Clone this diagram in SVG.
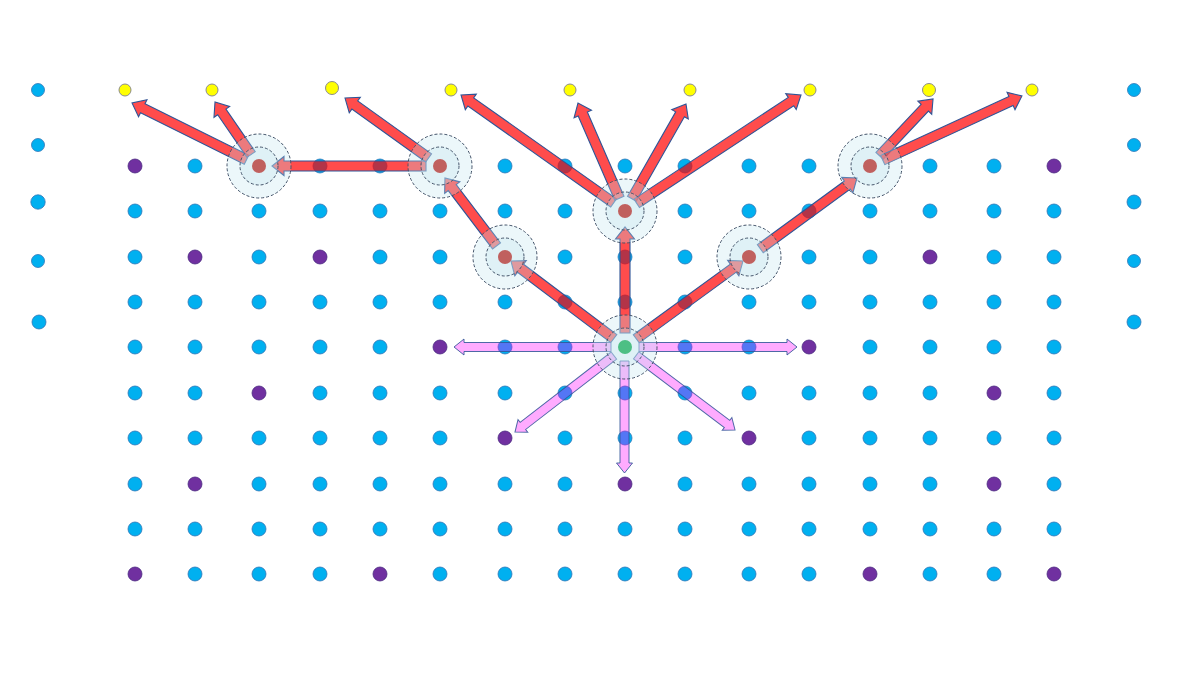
<svg xmlns="http://www.w3.org/2000/svg" width="1200" height="675" viewBox="0 0 1200 675">
<style>
.b{fill:#00b0f0;stroke:#2e75b6;stroke-width:0.8}
.p{fill:#7030a0;stroke:#4a2a80;stroke-width:0.8}
.y{fill:#ffff00;stroke:#8c8c8c;stroke-width:1}
.ra{fill:#ff0000;fill-opacity:0.7;stroke:#2f5597;stroke-width:1.1;stroke-linejoin:miter}
.pa{fill:#ff00ff;fill-opacity:0.33;stroke:#2f5597;stroke-width:1;stroke-opacity:0.85}
.halo{fill:#bfe6f0;fill-opacity:0.3;stroke:#44546a;stroke-width:1;stroke-dasharray:3 2}
.nc{fill:#c0605e}
.gc{fill:#4dbf84}
</style>
<rect width="1200" height="675" fill="#ffffff"/>
<g id="side-dots">
<circle class="b" cx="38" cy="90" r="6.5"/><circle class="b" cx="38" cy="145" r="6.5"/><circle class="b" cx="38" cy="202" r="7.2"/><circle class="b" cx="38" cy="261" r="6.5"/><circle class="b" cx="39" cy="322" r="7"/>
<circle class="b" cx="1134" cy="90" r="6.5"/><circle class="b" cx="1134" cy="145" r="6.5"/><circle class="b" cx="1134" cy="202" r="7"/><circle class="b" cx="1134" cy="261" r="6.5"/><circle class="b" cx="1134" cy="322" r="7"/>
</g>
<g id="yellow-dots">
<circle class="y" cx="125" cy="90" r="6"/><circle class="y" cx="212" cy="90" r="6"/><circle class="y" cx="332" cy="88" r="6.5"/><circle class="y" cx="451" cy="90" r="6"/><circle class="y" cx="570" cy="90" r="6"/><circle class="y" cx="690" cy="90" r="6"/><circle class="y" cx="810" cy="90" r="6"/><circle class="y" cx="929" cy="90" r="6.5"/><circle class="y" cx="1032" cy="90" r="6"/>
</g>
<g id="grid">
<circle class="p" cx="135" cy="166" r="7"/><circle class="b" cx="195" cy="166" r="7"/><circle class="b" cx="320" cy="166" r="7"/><circle class="b" cx="380" cy="166" r="7"/><circle class="b" cx="505" cy="166" r="7"/><circle class="b" cx="565" cy="166" r="7"/><circle class="b" cx="625" cy="166" r="7"/><circle class="b" cx="685" cy="166" r="7"/><circle class="b" cx="749" cy="166" r="7"/><circle class="b" cx="809" cy="166" r="7"/><circle class="b" cx="930" cy="166" r="7"/><circle class="b" cx="994" cy="166" r="7"/><circle class="p" cx="1054" cy="166" r="7"/>
<circle class="b" cx="135" cy="211" r="7"/><circle class="b" cx="195" cy="211" r="7"/><circle class="b" cx="259" cy="211" r="7"/><circle class="b" cx="320" cy="211" r="7"/><circle class="b" cx="380" cy="211" r="7"/><circle class="b" cx="440" cy="211" r="7"/><circle class="b" cx="505" cy="211" r="7"/><circle class="b" cx="565" cy="211" r="7"/><circle class="b" cx="685" cy="211" r="7"/><circle class="b" cx="749" cy="211" r="7"/><circle class="b" cx="809" cy="211" r="7"/><circle class="b" cx="870" cy="211" r="7"/><circle class="b" cx="930" cy="211" r="7"/><circle class="b" cx="994" cy="211" r="7"/><circle class="b" cx="1054" cy="211" r="7"/>
<circle class="b" cx="135" cy="257" r="7"/><circle class="p" cx="195" cy="257" r="7"/><circle class="b" cx="259" cy="257" r="7"/><circle class="p" cx="320" cy="257" r="7"/><circle class="b" cx="380" cy="257" r="7"/><circle class="b" cx="440" cy="257" r="7"/><circle class="b" cx="565" cy="257" r="7"/><circle class="b" cx="625" cy="257" r="7"/><circle class="b" cx="685" cy="257" r="7"/><circle class="b" cx="809" cy="257" r="7"/><circle class="b" cx="870" cy="257" r="7"/><circle class="p" cx="930" cy="257" r="7"/><circle class="b" cx="994" cy="257" r="7"/><circle class="b" cx="1054" cy="257" r="7"/>
<circle class="b" cx="135" cy="302" r="7"/><circle class="b" cx="195" cy="302" r="7"/><circle class="b" cx="259" cy="302" r="7"/><circle class="b" cx="320" cy="302" r="7"/><circle class="b" cx="380" cy="302" r="7"/><circle class="b" cx="440" cy="302" r="7"/><circle class="b" cx="505" cy="302" r="7"/><circle class="b" cx="565" cy="302" r="7"/><circle class="b" cx="625" cy="302" r="7"/><circle class="b" cx="685" cy="302" r="7"/><circle class="b" cx="749" cy="302" r="7"/><circle class="b" cx="809" cy="302" r="7"/><circle class="b" cx="870" cy="302" r="7"/><circle class="b" cx="930" cy="302" r="7"/><circle class="b" cx="994" cy="302" r="7"/><circle class="b" cx="1054" cy="302" r="7"/>
<circle class="b" cx="135" cy="347" r="7"/><circle class="b" cx="195" cy="347" r="7"/><circle class="b" cx="259" cy="347" r="7"/><circle class="b" cx="320" cy="347" r="7"/><circle class="b" cx="380" cy="347" r="7"/><circle class="p" cx="440" cy="347" r="7"/><circle class="b" cx="505" cy="347" r="7"/><circle class="b" cx="565" cy="347" r="7"/><circle class="b" cx="685" cy="347" r="7"/><circle class="b" cx="749" cy="347" r="7"/><circle class="p" cx="809" cy="347" r="7"/><circle class="b" cx="870" cy="347" r="7"/><circle class="b" cx="930" cy="347" r="7"/><circle class="b" cx="994" cy="347" r="7"/><circle class="b" cx="1054" cy="347" r="7"/>
<circle class="b" cx="135" cy="393" r="7"/><circle class="b" cx="195" cy="393" r="7"/><circle class="p" cx="259" cy="393" r="7"/><circle class="b" cx="320" cy="393" r="7"/><circle class="b" cx="380" cy="393" r="7"/><circle class="b" cx="440" cy="393" r="7"/><circle class="b" cx="505" cy="393" r="7"/><circle class="b" cx="565" cy="393" r="7"/><circle class="b" cx="625" cy="393" r="7"/><circle class="b" cx="685" cy="393" r="7"/><circle class="b" cx="749" cy="393" r="7"/><circle class="b" cx="809" cy="393" r="7"/><circle class="b" cx="870" cy="393" r="7"/><circle class="b" cx="930" cy="393" r="7"/><circle class="p" cx="994" cy="393" r="7"/><circle class="b" cx="1054" cy="393" r="7"/>
<circle class="b" cx="135" cy="438" r="7"/><circle class="b" cx="195" cy="438" r="7"/><circle class="b" cx="259" cy="438" r="7"/><circle class="b" cx="320" cy="438" r="7"/><circle class="b" cx="380" cy="438" r="7"/><circle class="b" cx="440" cy="438" r="7"/><circle class="p" cx="505" cy="438" r="7"/><circle class="b" cx="565" cy="438" r="7"/><circle class="b" cx="625" cy="438" r="7"/><circle class="b" cx="685" cy="438" r="7"/><circle class="p" cx="749" cy="438" r="7"/><circle class="b" cx="809" cy="438" r="7"/><circle class="b" cx="870" cy="438" r="7"/><circle class="b" cx="930" cy="438" r="7"/><circle class="b" cx="994" cy="438" r="7"/><circle class="b" cx="1054" cy="438" r="7"/>
<circle class="b" cx="135" cy="484" r="7"/><circle class="p" cx="195" cy="484" r="7"/><circle class="b" cx="259" cy="484" r="7"/><circle class="b" cx="320" cy="484" r="7"/><circle class="b" cx="380" cy="484" r="7"/><circle class="b" cx="440" cy="484" r="7"/><circle class="b" cx="505" cy="484" r="7"/><circle class="b" cx="565" cy="484" r="7"/><circle class="p" cx="625" cy="484" r="7"/><circle class="b" cx="685" cy="484" r="7"/><circle class="b" cx="749" cy="484" r="7"/><circle class="b" cx="809" cy="484" r="7"/><circle class="b" cx="870" cy="484" r="7"/><circle class="b" cx="930" cy="484" r="7"/><circle class="p" cx="994" cy="484" r="7"/><circle class="b" cx="1054" cy="484" r="7"/>
<circle class="b" cx="135" cy="529" r="7"/><circle class="b" cx="195" cy="529" r="7"/><circle class="b" cx="259" cy="529" r="7"/><circle class="b" cx="320" cy="529" r="7"/><circle class="b" cx="380" cy="529" r="7"/><circle class="b" cx="440" cy="529" r="7"/><circle class="b" cx="505" cy="529" r="7"/><circle class="b" cx="565" cy="529" r="7"/><circle class="b" cx="625" cy="529" r="7"/><circle class="b" cx="685" cy="529" r="7"/><circle class="b" cx="749" cy="529" r="7"/><circle class="b" cx="809" cy="529" r="7"/><circle class="b" cx="870" cy="529" r="7"/><circle class="b" cx="930" cy="529" r="7"/><circle class="b" cx="994" cy="529" r="7"/><circle class="b" cx="1054" cy="529" r="7"/>
<circle class="p" cx="135" cy="574" r="7"/><circle class="b" cx="195" cy="574" r="7"/><circle class="b" cx="259" cy="574" r="7"/><circle class="b" cx="320" cy="574" r="7"/><circle class="p" cx="380" cy="574" r="7"/><circle class="b" cx="440" cy="574" r="7"/><circle class="b" cx="505" cy="574" r="7"/><circle class="b" cx="565" cy="574" r="7"/><circle class="b" cx="625" cy="574" r="7"/><circle class="b" cx="685" cy="574" r="7"/><circle class="b" cx="749" cy="574" r="7"/><circle class="b" cx="809" cy="574" r="7"/><circle class="p" cx="870" cy="574" r="7"/><circle class="b" cx="930" cy="574" r="7"/><circle class="b" cx="994" cy="574" r="7"/><circle class="p" cx="1054" cy="574" r="7"/>
</g>
<g id="connectors">
<path class="ra" transform="translate(613.8,338.6) rotate(-142.97)" d="M0,-5 H116.8 V-9.5 L128.8,0 L116.8,9.5 V5 H0 Z"/>
<path class="ra" transform="translate(625,333) rotate(-90)" d="M0,-5 H94 V-9.5 L106,0 L94,9.5 V5 H0 Z"/>
<path class="ra" transform="translate(636.3,338.8) rotate(-36.09)" d="M0,-5 H120 V-9.5 L132,0 L120,9.5 V5 H0 Z"/>
<path class="ra" transform="translate(496.5,245.9) rotate(-127.22)" d="M0,-5 H73.2 V-9.5 L85.2,0 L73.2,9.5 V5 H0 Z"/>
<path class="ra" transform="translate(426,166) rotate(180)" d="M0,-5 H142 V-9.5 L154,0 L142,9.5 V5 H0 Z"/>
<path class="ra" transform="translate(428.6,157.9) rotate(-144.4)" d="M0,-5 H90.8 V-9.5 L102.8,0 L90.8,9.5 V5 H0 Z"/>
<path class="ra" transform="translate(246.5,159.8) rotate(-153.61)" d="M0,-5 H115.8 V-9.5 L127.8,0 L115.8,9.5 V5 H0 Z"/>
<path class="ra" transform="translate(251.1,154.5) rotate(-124.51)" d="M0,-5 H51.7 V-9.5 L63.7,0 L51.7,9.5 V5 H0 Z"/>
<path class="ra" transform="translate(613.6,202.9) rotate(-144.73)" d="M0,-5 H174.9 V-9.5 L186.9,0 L174.9,9.5 V5 H0 Z"/>
<path class="ra" transform="translate(619.4,198.2) rotate(-113.52)" d="M0,-5 H91.8 V-9.5 L103.8,0 L91.8,9.5 V5 H0 Z"/>
<path class="ra" transform="translate(631.9,198.8) rotate(-60.31)" d="M0,-5 H97.2 V-9.5 L109.2,0 L97.2,9.5 V5 H0 Z"/>
<path class="ra" transform="translate(636.7,203.3) rotate(-33.39)" d="M0,-5 H184.8 V-9.5 L196.8,0 L184.8,9.5 V5 H0 Z"/>
<path class="ra" transform="translate(760.3,248.7) rotate(-36.19)" d="M0,-5 H107.8 V-9.5 L119.8,0 L107.8,9.5 V5 H0 Z"/>
<path class="ra" transform="translate(879.6,155.8) rotate(-46.76)" d="M0,-5 H66 V-9.5 L78,0 L66,9.5 V5 H0 Z"/>
<path class="ra" transform="translate(882.7,160.1) rotate(-24.73)" d="M0,-5 H141.3 V-9.5 L153.3,0 L141.3,9.5 V5 H0 Z"/>
<path class="pa" transform="translate(611,347) rotate(180)" d="M0,-4.5 H147 V-8 L157,0 L147,8 V4.5 H0 Z"/>
<path class="pa" transform="translate(639,347)" d="M0,-4.5 H148 V-8 L158,0 L148,8 V4.5 H0 Z"/>
<path class="pa" transform="translate(624.5,361) rotate(90)" d="M0,-4.5 H102 V-8 L112,0 L102,8 V4.5 H0 Z"/>
<path class="pa" transform="translate(613.9,355.6) rotate(142.31)" d="M0,-4.5 H115 V-8 L125,0 L115,8 V4.5 H0 Z"/>
<path class="pa" transform="translate(636.2,355.4) rotate(37.03)" d="M0,-4.5 H113.8 V-8 L123.8,0 L113.8,8 V4.5 H0 Z"/>
</g>
<g id="node-259-166"><circle class="halo" cx="259" cy="166" r="32"/><circle class="halo" cx="259" cy="166" r="19"/><circle class="nc" cx="259" cy="166" r="7"/></g>
<g id="node-440-166"><circle class="halo" cx="440" cy="166" r="32"/><circle class="halo" cx="440" cy="166" r="19"/><circle class="nc" cx="440" cy="166" r="7"/></g>
<g id="node-505-257"><circle class="halo" cx="505" cy="257" r="32"/><circle class="halo" cx="505" cy="257" r="19"/><circle class="nc" cx="505" cy="257" r="7"/></g>
<g id="node-625-211"><circle class="halo" cx="625" cy="211" r="32"/><circle class="halo" cx="625" cy="211" r="19"/><circle class="nc" cx="625" cy="211" r="7"/></g>
<g id="node-749-257"><circle class="halo" cx="749" cy="257" r="32"/><circle class="halo" cx="749" cy="257" r="19"/><circle class="nc" cx="749" cy="257" r="7"/></g>
<g id="node-870-166"><circle class="halo" cx="870" cy="166" r="32"/><circle class="halo" cx="870" cy="166" r="19"/><circle class="nc" cx="870" cy="166" r="7"/></g>
<g id="node-start"><circle class="halo" cx="625" cy="347" r="32"/><circle class="halo" cx="625" cy="347" r="19"/><circle class="gc" cx="625" cy="347" r="7"/></g>
</svg>
